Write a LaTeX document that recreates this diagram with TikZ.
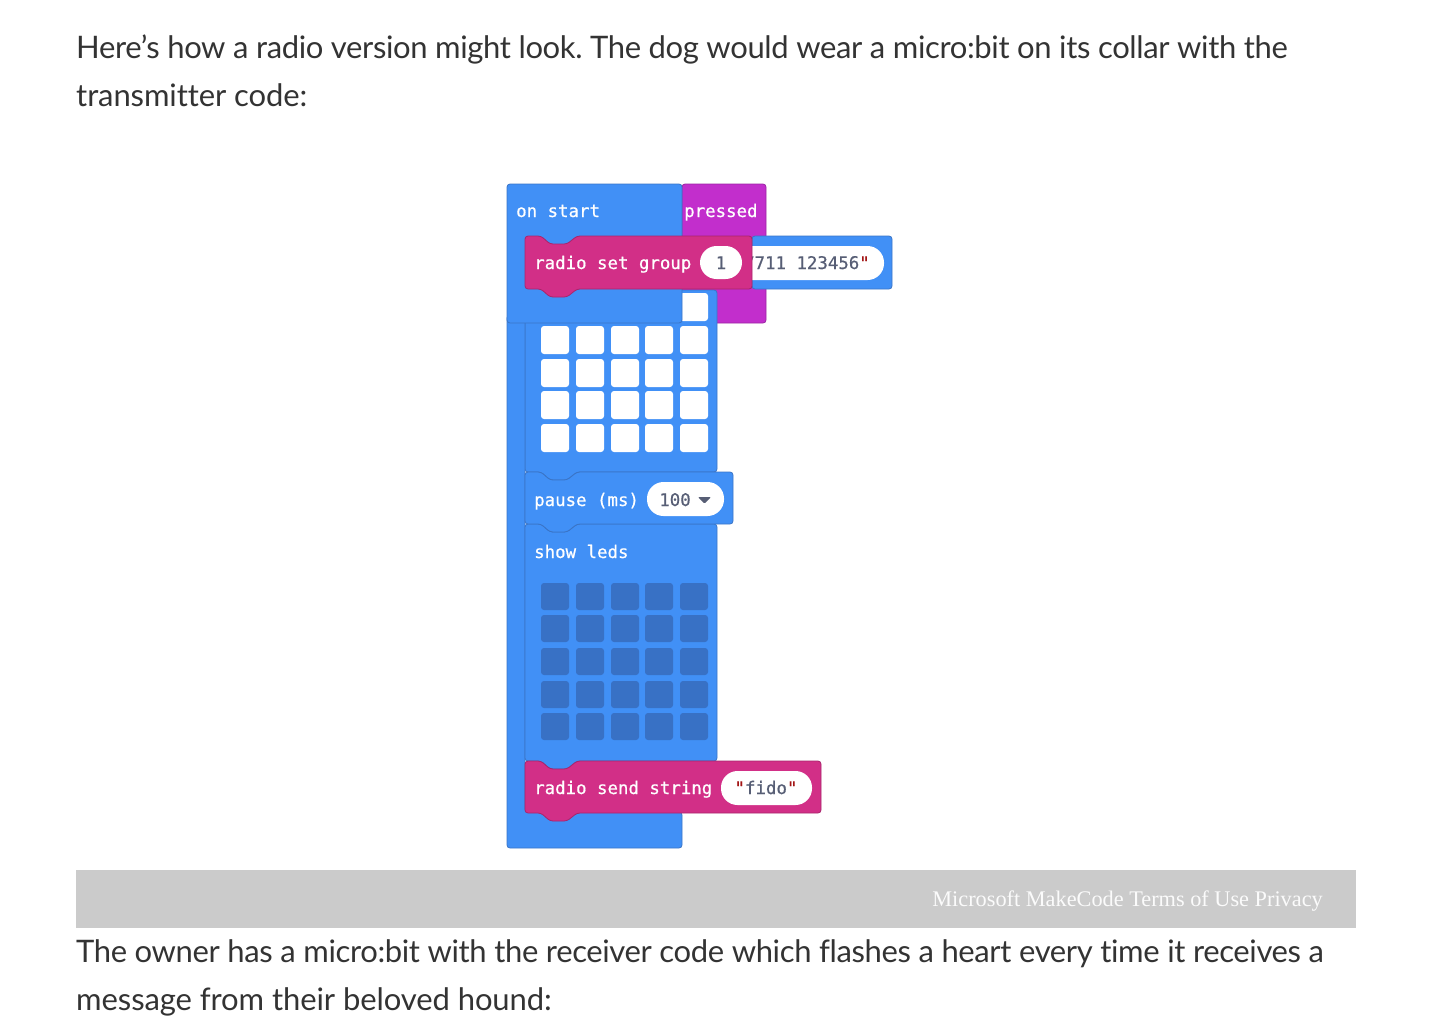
\documentclass[tikz,border=0pt]{standalone}
\usepackage{fontspec}
\setmainfont[LetterSpace=-1.2,Ligatures=CommonOff]{Lato}
\setmonofont[FakeBold=0.6]{DejaVu Sans Mono}
\newfontfamily\footfont{Liberation Serif}
\usetikzlibrary{positioning}
\definecolor{bodyink}{HTML}{333333}
\definecolor{blockblue}{HTML}{4190F6}
\definecolor{blockblueedge}{HTML}{3A74C6}
\definecolor{blockpink}{HTML}{D22F87}
\definecolor{blockpinkedge}{HTML}{A8256C}
\definecolor{blockpurple}{HTML}{C22ECC}
\definecolor{blockpurpleedge}{HTML}{9B25A3}
\definecolor{ledoff}{HTML}{3871C5}
\definecolor{pillink}{HTML}{575E75}
\definecolor{quotered}{HTML}{A31515}
\definecolor{footgrey}{HTML}{CBCBCB}
\tikzset{
	bodyline/.style={anchor=base west, inner sep=0pt, text=bodyink, font=\frenchspacing\fontsize{31}{31}\selectfont},
	shortline/.style={bodyline, font=\fontsize{31}{31}\selectfont\addfontfeature{LetterSpace=-0.3}},
	blocktext/.style={anchor=base west, inner sep=0pt, text=white, font=\ttfamily\fontsize{17.4}{17.4}\selectfont},
	pilltext/.style={anchor=base, inner sep=0pt, text=pillink, font=\ttfamily\fontsize{17.4}{17.4}\selectfont},
	blue block/.style={fill=blockblue, draw=blockblueedge, line width=0.8pt, rounded corners=3pt},
	pink block/.style={fill=blockpink, draw=blockpinkedge, line width=0.8pt, rounded corners=3pt},
	purple block/.style={fill=blockpurple, draw=blockpurpleedge, line width=0.8pt, rounded corners=3pt},
	pill/.style={fill=white, draw=none, rounded corners=16.5pt},
	led on/.style={fill=white, rounded corners=3pt},
	led off/.style={fill=ledoff, rounded corners=3pt}
}
% style, left, top, right, bottom
\newcommand{\notchblock}[5]{
	\draw[#1] (#2,#3) -- ({#2+16},#3) -- ({#2+25},{#3+8}) -- ({#2+42},{#3+8}) -- ({#2+52},#3)
		-- (#4,#3) -- (#4,#5) -- ({#2+52},#5) -- ({#2+42},{#5+8}) -- ({#2+25},{#5+8}) -- ({#2+16},#5)
		-- (#2,#5) -- cycle;
}
\begin{document}
\begin{tikzpicture}[x=1pt, y=-1pt]
	\useasboundingbox (0,0) rectangle (1448,1034);
	\node (line1) [bodyline] at (76,58) {Here’s how a radio version might look. The dog would wear a micro:bit on its collar with the};
	\node (line2) [shortline] at (76,106) {transmitter code:};

	\draw[purple block] (682,184) rectangle (766,323);
	\node (pressed) [blocktext] at (684,217) {pressed};

	\notchblock{blue block}{525}{290}{717}{472}
	\foreach \rowy in {293,326,359,391,424}
		\foreach \colx in {541,576,611,645,680}
			\fill[led on] (\colx,\rowy) rectangle ++(28,28);

	\draw[blue block] (752,236) rectangle (892,289);
	\fill[pill] (730,246) rectangle (884,280);
	\node (phone) [pilltext, anchor=base east] at (870,269) {7711 123456\textcolor{quotered}{"}};

	\draw[blue block] (507,315) -- (525,315) -- (525,812) -- (682,812) -- (682,848) -- (507,848) -- cycle;
	\draw[blue block] (507,184) rectangle (682,323);
	\node (onstart) [blocktext] at (516,217) {on start};

	\notchblock{pink block}{525}{236}{752}{289}
	\node (setgroup) [blocktext] at (534,269) {radio set group};
	\fill[pill] (700,246) rectangle (742,279);
	\node (groupnum) [pilltext] at (721,269) {1};

	\notchblock{blue block}{525}{524}{717}{761}
	\node (showleds) [blocktext] at (534,558) {show leds};
	\foreach \rowy in {583,615,648,681,713}
		\foreach \colx in {541,576,611,645,680}
			\fill[led off] (\colx,\rowy) rectangle ++(28,27);

	\notchblock{blue block}{525}{472}{733}{524}
	\node (pause) [blocktext] at (534,506) {pause (ms)};
	\fill[pill] (647,482) rectangle (724,516);
	\node (pauseval) [pilltext] at (675,506) {100};
	\fill[pillink, rounded corners=1pt] (698,497) -- (711,497) -- (704.5,503.5) -- cycle;

	\notchblock{pink block}{525}{761}{821}{813}
	\node (sendstring) [blocktext] at (534,794) {radio send string};
	\fill[pill] (721,771) rectangle (812,805);
	\node (fido) [pilltext] at (766,794) {\textcolor{quotered}{"}fido\textcolor{quotered}{"}};

	\fill[footgrey] (76,870) rectangle (1356,928);
	\node (footer) [anchor=base east, inner sep=0pt, text=white!92!footgrey, font=\footfont\fontsize{22.3}{22.3}\selectfont] at (1323,906) {Microsoft MakeCode Terms of Use Privacy};

	\node (line3) [bodyline] at (76,962) {The owner has a micro:bit with the receiver code which flashes a heart every time it receives a};
	\node (line4) [shortline] at (76,1010) {message from their beloved hound:};
\end{tikzpicture}
\end{document}
